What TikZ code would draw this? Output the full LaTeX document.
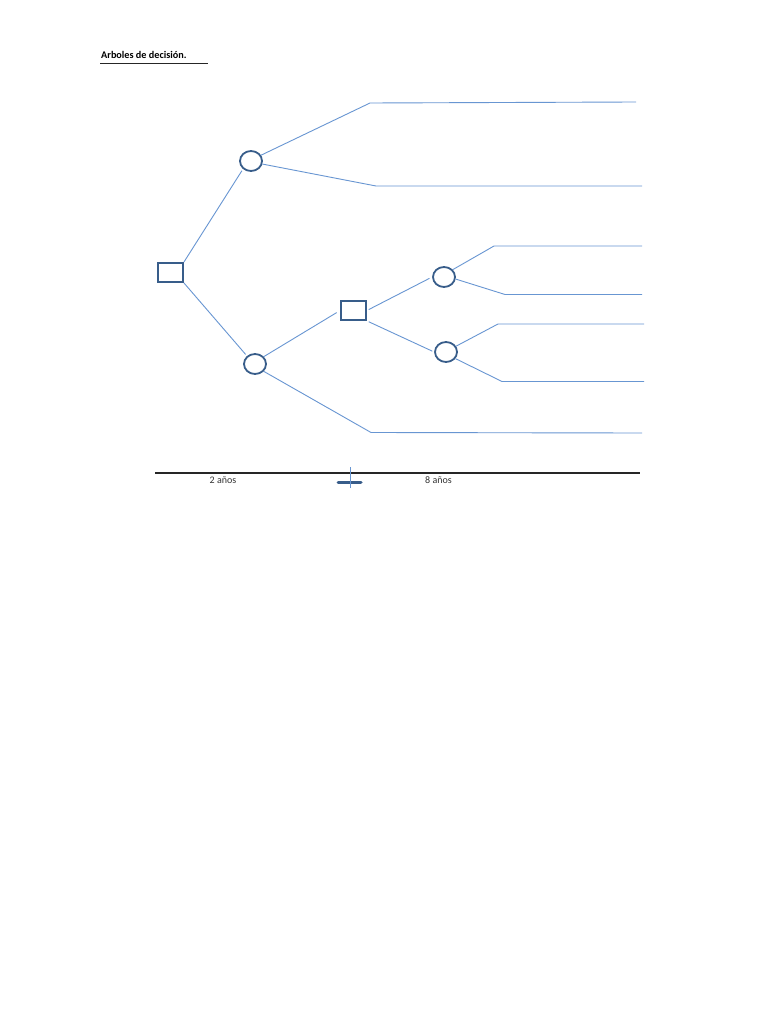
\documentclass[tikz,border=0pt]{standalone}
\usepackage{fontspec}
\setmainfont{Carlito}
\usetikzlibrary{shapes.geometric}
\definecolor{shapeblue}{RGB}{56,93,138}
\definecolor{branchblue}{RGB}{104,150,210}
\begin{document}
\begin{tikzpicture}[x=1pt, y=-1pt,
          decision/.style={shape=rectangle, draw=shapeblue, line width=1.8pt, minimum width=25pt, minimum height=19pt, inner sep=0pt},
          chance/.style={shape=ellipse, draw=shapeblue, line width=1.8pt, minimum width=22pt, minimum height=20pt, inner sep=0pt},
          branch/.style={draw=branchblue, line width=0.9pt},
          years/.style={font=\fontsize{10}{12}\selectfont, text=black!80, inner sep=0pt}]
          \useasboundingbox (0,0) rectangle (768,1024);
          \fill[white] (0,0) rectangle (768,1024);
          \node[anchor=west, inner sep=0pt, font=\fontsize{10.2}{12}\bfseries\selectfont] (title) at (101,55) {Arboles de decisión.};
          \coordinate (u0) at (100,63);
          \coordinate (u1) at (208,63);
          \draw[line width=0.8pt, black!85] (u0) -- (u1);
          \node[decision] (d1) at (170.5,272.5) {};
          \node[chance] (c1) at (251,161) {};
          \node[chance] (c2) at (255,364) {};
          \node[decision] (d2) at (353.5,310.5) {};
          \node[chance] (c3) at (444,277) {};
          \node[chance] (c4) at (446,352) {};
          \coordinate (p1) at (370,103); \coordinate (q1) at (636,102);
          \coordinate (p2) at (376,186); \coordinate (q2) at (642,186);
          \coordinate (p3) at (494,246); \coordinate (q3) at (642,246);
          \coordinate (p4) at (505,294.5); \coordinate (q4) at (642,294.5);
          \coordinate (p5) at (498,324); \coordinate (q5) at (644,324);
          \coordinate (p6) at (502,381.5); \coordinate (q6) at (644,381.5);
          \coordinate (p7) at (371,432.5); \coordinate (q7) at (642,433);
          \draw[branch, shorten >=2pt] (d1.north east) -- (c1.225);
          \draw[branch, shorten >=2pt] (d1.south east) -- (c2.135);
          \draw[branch] (c1.30) -- (p1) -- (q1);
          \draw[branch] (c1.-15) -- (p2) -- (q2);
          \draw[branch, shorten >=4pt] (c2.40) -- (d2.west);
          \draw[branch] (c2.-40) -- (p7) -- (q7);
          \draw[branch, shorten <=2pt, shorten >=3pt] (d2.east) -- (c3.west);
          \draw[branch, shorten <=2pt, shorten >=2pt] (d2.south east) -- (c4.west);
          \draw[branch] (c3.40) -- (p3) -- (q3);
          \draw[branch] (c3.-10) -- (p4) -- (q4);
          \draw[branch] (c4.30) -- (p5) -- (q5);
          \draw[branch] (c4.-35) -- (p6) -- (q6);
          \coordinate (t0) at (155,473);
          \coordinate (t1) at (640,473);
          \draw[line width=1.1pt, black!85] (t0) -- (t1);
          \coordinate (m0) at (350,467);
          \coordinate (m1) at (350,488);
          \coordinate (s0) at (338,482);
          \coordinate (s1) at (361,482);
          \draw[line width=3pt, shapeblue, line cap=round] (s0) -- (s1);
          \draw[line width=0.8pt, branchblue] (m0) -- (m1);
          \node[years] (two) at (223,480) {2 años};
          \node[years] (eight) at (438.5,480) {8 años};
\end{tikzpicture}
\end{document}
